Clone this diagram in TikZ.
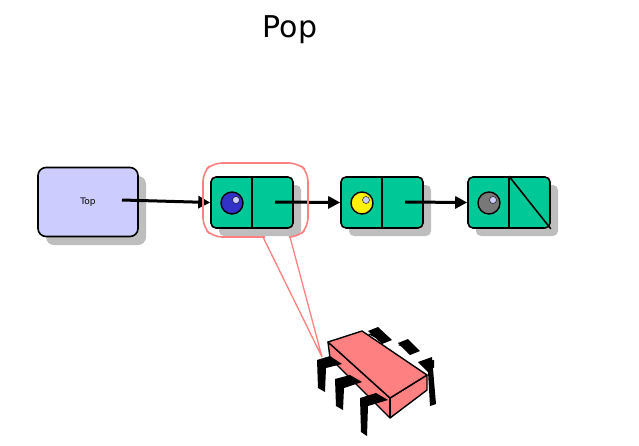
\documentclass[tikz,border=0pt]{standalone}
\usepackage{fontspec}
\setmainfont{DejaVu Sans}
\usetikzlibrary{arrows.meta}
\definecolor{cellg}{RGB}{0,200,150}
\definecolor{topc}{RGB}{204,204,255}
\definecolor{pinkc}{RGB}{255,128,128}
\definecolor{shad}{RGB}{190,190,190}
\begin{document}
\begin{tikzpicture}[x=1pt,y=-1pt,
  cell/.style={draw=black,line width=1.6pt,fill=cellg,rounded corners=5pt,minimum width=82pt,minimum height=51pt,inner sep=0pt},
  topbox/.style={draw=black,line width=1.6pt,fill=topc,rounded corners=8pt,minimum width=100pt,minimum height=69pt,font=\small},
  shadow/.style={fill=shad,rounded corners=5pt},
  ptr/.style={line width=3pt,-{Triangle[length=12pt,width=12pt]}},
  ball/.style={draw=black,line width=1.4pt,circle,minimum size=22pt,inner sep=0pt}]
\useasboundingbox (0,0) rectangle (639,445);
\node (title) at (290,30) {\fontsize{30}{30}\selectfont Pop};
% shadows
\fill[shad,rounded corners=8pt] (46,176) rectangle (146,245);
\foreach \x in {211,341,468}{\fill[shad,rounded corners=5pt] (\x+8,185) rectangle (\x+90,236);}
\node[topbox] (top) at (88,202) {Top};
\node[cell] (n1) at (252,202.5) {};
\node[cell] (n2) at (382,202.5) {};
\node[cell] (n3) at (509,202.5) {};
\foreach \n in {n1,n2,n3}{\draw[line width=1.6pt] (\n.north) -- (\n.south);}
\draw[line width=1.6pt] (n3.north) -- (n3.south east);
\node[ball,fill={rgb,255:red,50;green,50;blue,200}] (b1) at (232,203) {};
\node[ball,fill=yellow] (b2) at (362,203) {};
\node[ball,fill={rgb,255:red,120;green,120;blue,120}] (b3) at (489,203) {};
\foreach \b in {b1,b2,b3}{\fill[white!80!blue,draw=black,line width=0.4pt] ([shift={(4,-3)}]\b.center) circle (3.5pt);}
\coordinate (p1) at (275,202);
\coordinate (p2) at (405,202);
\draw[ptr] (122,200) -- (n1.west);
\draw[ptr] (p1) -- (n2.west);
\draw[ptr] (p2) -- (n3.west);
% callout
\draw[pinkc,line width=1.6pt,rounded corners=9pt] (265,237) -- (213,237) -- (203,227) -- (203,172) -- (213,163) -- (298,163) -- (308,172) -- (308,227) -- (298,237) -- (290,237);
\coordinate (tip) at (322,357);
\draw[pinkc,line width=1.3pt] (263,237) -- (tip) -- (290,237);
% chip legs (back)
\foreach \a/\b in {{368,334}/{380,332},{398,345}/{410,342},{422,362}/{434,360}}{
 \fill[black] (\a) -- (\b) -- ++(0,8) -- ++(0,0) -- cycle;}
\fill[black] (368,331)--(378,327)--(392,340)--(382,344)--cycle;
\fill[black] (398,343)--(408,339)--(420,351)--(410,355)--cycle;
\fill[black] (418,362)--(432,357)--(436,404)--(430,406)--(428,372)--cycle;
% chip body
\fill[pinkc,draw=black,line width=1.4pt,line join=round] (328,342) -- (330,358) -- (390,418) -- (427,390) -- (427,375) -- (390,398) -- cycle;
\fill[pinkc,draw=black,line width=1.4pt,line join=round] (328,342) -- (362,331) -- (427,375) -- (390,398) -- cycle;
\draw[black,line width=1.4pt] (390,398) -- (390,418);
% front legs
\fill[black] (317,360)--(330,356)--(342,364)--(326,368)--(325,392)--(318,388)--cycle;
\fill[black] (335,379)--(350,375)--(362,382)--(344,388)--(343,410)--(336,406)--cycle;
\fill[black] (360,398)--(376,393)--(388,400)--(368,406)--(367,436)--(361,432)--cycle;
\end{tikzpicture}
\end{document}
